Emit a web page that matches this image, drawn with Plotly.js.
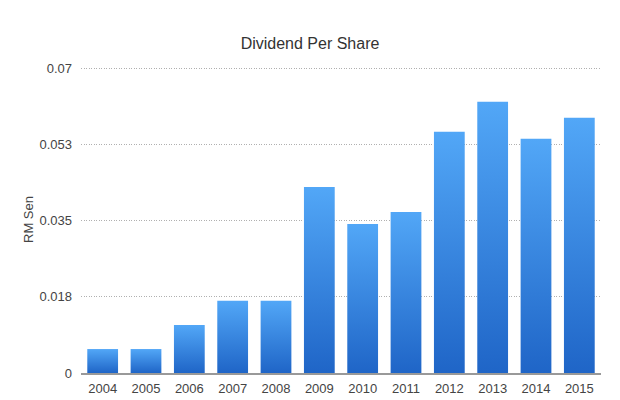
<!DOCTYPE html>
<html>
<head>
<meta charset="utf-8">
<script src="https://cdn.plot.ly/plotly-3.0.1.min.js"></script>
<style>
  body { margin: 0; background: #fff; }
  #chart { width: 620px; height: 400px; }
</style>
</head>
<body>
<div id="chart"></div>
<script>
// values
var years = ['2004', '2005', '2006', '2007', '2008', '2009', '2010', '2011', '2012', '2013', '2014', '2015'];
var dps = [0.0055, 0.0055, 0.011, 0.0166, 0.0166, 0.0427, 0.0342, 0.037, 0.0554, 0.0623, 0.0538, 0.0586];
var tickVals = [0, 0.0175, 0.035, 0.0525, 0.07];
var tickText = ['0', '0.018', '0.035', '0.053', '0.07'];

var font = '"Liberation Sans", Arial, sans-serif';

var trace = {
    x: years,
    y: dps,
    type: 'bar',
    marker: {color: '#3a8be8', line: {width: 0}},
    hoverinfo: 'x+y'
};

var layout = {
    width: 620,
    height: 400,
    margin: {l: 81, r: 19, t: 66, b: 27},
    paper_bgcolor: '#fff',
    plot_bgcolor: '#fff',
    font: {family: font, color: '#444', size: 13},
    title: {
        text: 'Dividend Per Share',
        font: {family: font, size: 16, color: '#333'},
        x: 0.5, xanchor: 'center',
        y: 0.892, yanchor: 'middle'
    },
    bargap: 0.29,
    showlegend: false,
    xaxis: {
        type: 'category',
        showgrid: false,
        showline: true,
        linecolor: '#999',
        linewidth: 1.5,
        ticks: '',
        ticklabelstandoff: 3,
        tickfont: {size: 13, color: '#444'}
    },
    yaxis: {
        range: [0, 0.0705],
        tickvals: tickVals,
        ticktext: tickText,
        showgrid: true,
        gridcolor: '#b0b0b0',
        griddash: '1px,1.5px',
        gridwidth: 1,
        zeroline: false,
        showline: false,
        ticks: '',
        ticklabelstandoff: 8,
        tickfont: {size: 13, color: '#444'},
        title: {text: 'RM Sen', font: {size: 13, color: '#444'}, standoff: 2}
    }
};

function addGradient(gd) {
    // vertical blue gradient like the original bars
    var svg = gd.querySelector('svg.main-svg');
    var ns = 'http://www.w3.org/2000/svg';
    var defs = svg.querySelector('defs') || svg.insertBefore(document.createElementNS(ns, 'defs'), svg.firstChild);
    var grad = document.createElementNS(ns, 'linearGradient');
    grad.setAttribute('id', 'barGrad');
    grad.setAttribute('x1', '0'); grad.setAttribute('y1', '0');
    grad.setAttribute('x2', '0'); grad.setAttribute('y2', '1');
    [['0%', '#52a7f7'], ['100%', '#1f65c7']].forEach(function (s) {
        var stop = document.createElementNS(ns, 'stop');
        stop.setAttribute('offset', s[0]);
        stop.setAttribute('stop-color', s[1]);
        grad.appendChild(stop);
    });
    defs.appendChild(grad);
    gd.querySelectorAll('.bars .point path').forEach(function (p) {
        p.style.fill = 'url(#barGrad)';
    });
}

var gd = document.getElementById('chart');
Plotly.newPlot(gd, [trace], layout, {displayModeBar: false, staticPlot: true}).then(addGradient);
</script>
</body>
</html>
